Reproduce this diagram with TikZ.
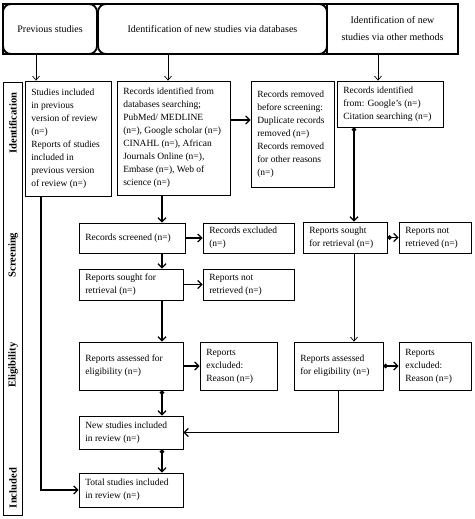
\documentclass[tikz,border=0pt]{standalone}
\usepackage{fontspec}
\setmainfont{Liberation Serif}
\usetikzlibrary{arrows.meta,calc}
\tikzset{
  bx/.style={draw=black, line width=0.8pt, fill=white, inner sep=0pt, anchor=center},
  txt/.style={inner sep=0pt, font=\fontsize{9.5}{13}\selectfont, align=left, anchor=west},
  hd/.style={draw=black, line width=1.8pt, fill=white, anchor=center,
     font=\fontsize{10}{17}\selectfont, align=center, minimum height=50pt},
  side/.style={font=\fontsize{10.6}{12}\selectfont\bfseries, rotate=90, anchor=center},
  thinarr/.style={line width=0.7pt, -{Straight Barb[length=4pt,width=7pt]}},
  thickarr/.style={line width=1.3pt, -{Straight Barb[length=4pt,width=8pt]}},
  dotarr/.style={line width=1.3pt, {Circle[length=4.5pt]}-{Straight Barb[length=4pt,width=8pt]}},
}
\newcommand\flowbox[6]{%
  \node[bx, minimum width=#4pt, minimum height=#5pt] (#1) at (#2,#3) {};
  \node[txt] (#1t) at ([xshift=6.5pt]#1.west) {#6};}
\begin{document}
\begin{tikzpicture}[x=1pt,y=-1pt]
\useasboundingbox (0,0) rectangle (474,519);
% header
\draw[line width=1.8pt] (3,4) rectangle (458,54);
\node[hd, rounded corners=8pt, minimum width=94pt] (prev) at (50,29) {Previous studies};
\node[hd, rounded corners=8pt, minimum width=229pt] (dbh) at (212.5,29) {Identification of new studies via databases};
\node[hd, minimum width=131pt] (oth) at (392.5,29) {Identification of new\\studies via other methods};
% sidebar
\node[draw=black, line width=0.9pt, minimum width=19pt, minimum height=433pt, inner sep=0pt] (sidebar) at (12.5,298.5) {};
\node[side] (lid) at (13,123) {Identification};
\node[side] (lsc) at (13,255) {Screening};
\node[side] (lel) at (13,365) {Eligibility};
\node[side] (lin) at (13,488) {Included};
% boxes
\flowbox{studprev}{68}{138.5}{86}{115}
  {Studies included\\in previous\\version of review\\(n=)\\Reports of studies\\included in\\previous version\\of review (n=)}
\flowbox{recid}{173.5}{138}{113}{114}
  {Records identified from\\databases searching;\\PubMed/ MEDLINE\\(n=), Google scholar (n=)\\CINAHL (n=), African\\Journals Online (n=),\\Embase (n=), Web of\\science (n=)}
\flowbox{recrem}{292.5}{134}{83}{106}
  {Records removed\\before screening:\\Duplicate records\\removed (n=)\\Records removed\\for other reasons\\(n=)}
\flowbox{google}{390}{104}{106}{46}
  {Records identified\\from: Google's (n=)\\Citation searching (n=)}
\flowbox{screened}{132}{238}{106}{30}
  {Records screened (n=)}
\flowbox{recexcl}{248.5}{238}{91}{30}
  {Records excluded\\(n=)}
\flowbox{sought}{131}{284.5}{104}{31}
  {Reports sought for\\retrieval (n=)}
\flowbox{notret}{248.5}{284.5}{91}{31}
  {Reports not\\retrieved (n=)}
\flowbox{assess}{131}{366}{104}{48}
  {Reports assessed for\\eligibility (n=)}
\flowbox{repexcl}{238.5}{366}{77}{48}
  {Reports\\excluded:\\Reason (n=)}
\flowbox{sought2}{345}{237.5}{84}{31}
  {Reports sought\\for retrieval (n=)}
\flowbox{notret2}{435}{237.5}{72}{31}
  {Reports not\\retrieved (n=)}
\flowbox{assess2}{338.5}{366}{89}{48}
  {Reports assessed\\for eligibility (n=)}
\flowbox{repexcl2}{435}{366}{72}{48}
  {Reports\\excluded:\\Reason (n=)}
\flowbox{newst}{131}{432.5}{104}{33}
  {New studies included\\in review (n=)}
\flowbox{total}{131}{490}{104}{34}
  {Total studies included\\in review (n=)}
% column coordinates
\coordinate (cP) at (36,0);
\coordinate (cD) at (168,0);
\coordinate (cO) at (378,0);
\coordinate (cA) at (162,0);
\coordinate (cB) at (354,0);
\coordinate (cL) at (41,0);
\coordinate (r120) at (0,120);
% connectors
\draw[thinarr] (cP |- prev.south) -- (cP |- studprev.north);
\draw[thinarr] (cD |- dbh.south) -- (cD |- recid.north);
\draw[thinarr] (cO |- oth.south) -- (cO |- google.north);
\draw[thickarr] (recid.east |- r120) -- (recrem.west |- r120);
\draw[thickarr] (cA |- recid.south) -- (cA |- screened.north);
\draw[thickarr] (cA |- screened.south) -- (cA |- sought.north);
\draw[thickarr] (cA |- sought.south) -- (cA |- assess.north);
\draw[dotarr] (cA |- assess.south) -- (cA |- newst.north);
\draw[dotarr] (cA |- newst.south) -- (cA |- total.north);
\draw[thickarr] (screened.east) -- (recexcl.west);
\draw[thickarr] (sought.east) -- (notret.west);
\draw[thickarr] (assess.east) -- (repexcl.west);
\draw[dotarr] (cB |- google.south) -- (cB |- sought2.north);
\draw[dotarr] (sought2.east) -- (notret2.west);
\draw[thinarr] (cB |- sought2.south) -- (cB |- assess2.north);
\draw[dotarr] (assess2.east) -- (repexcl2.west);
\draw[thickarr] (assess2.south) |- (newst.east);
\draw[thickarr] (cL |- studprev.south) |- (total.west);
\end{tikzpicture}
\end{document}
